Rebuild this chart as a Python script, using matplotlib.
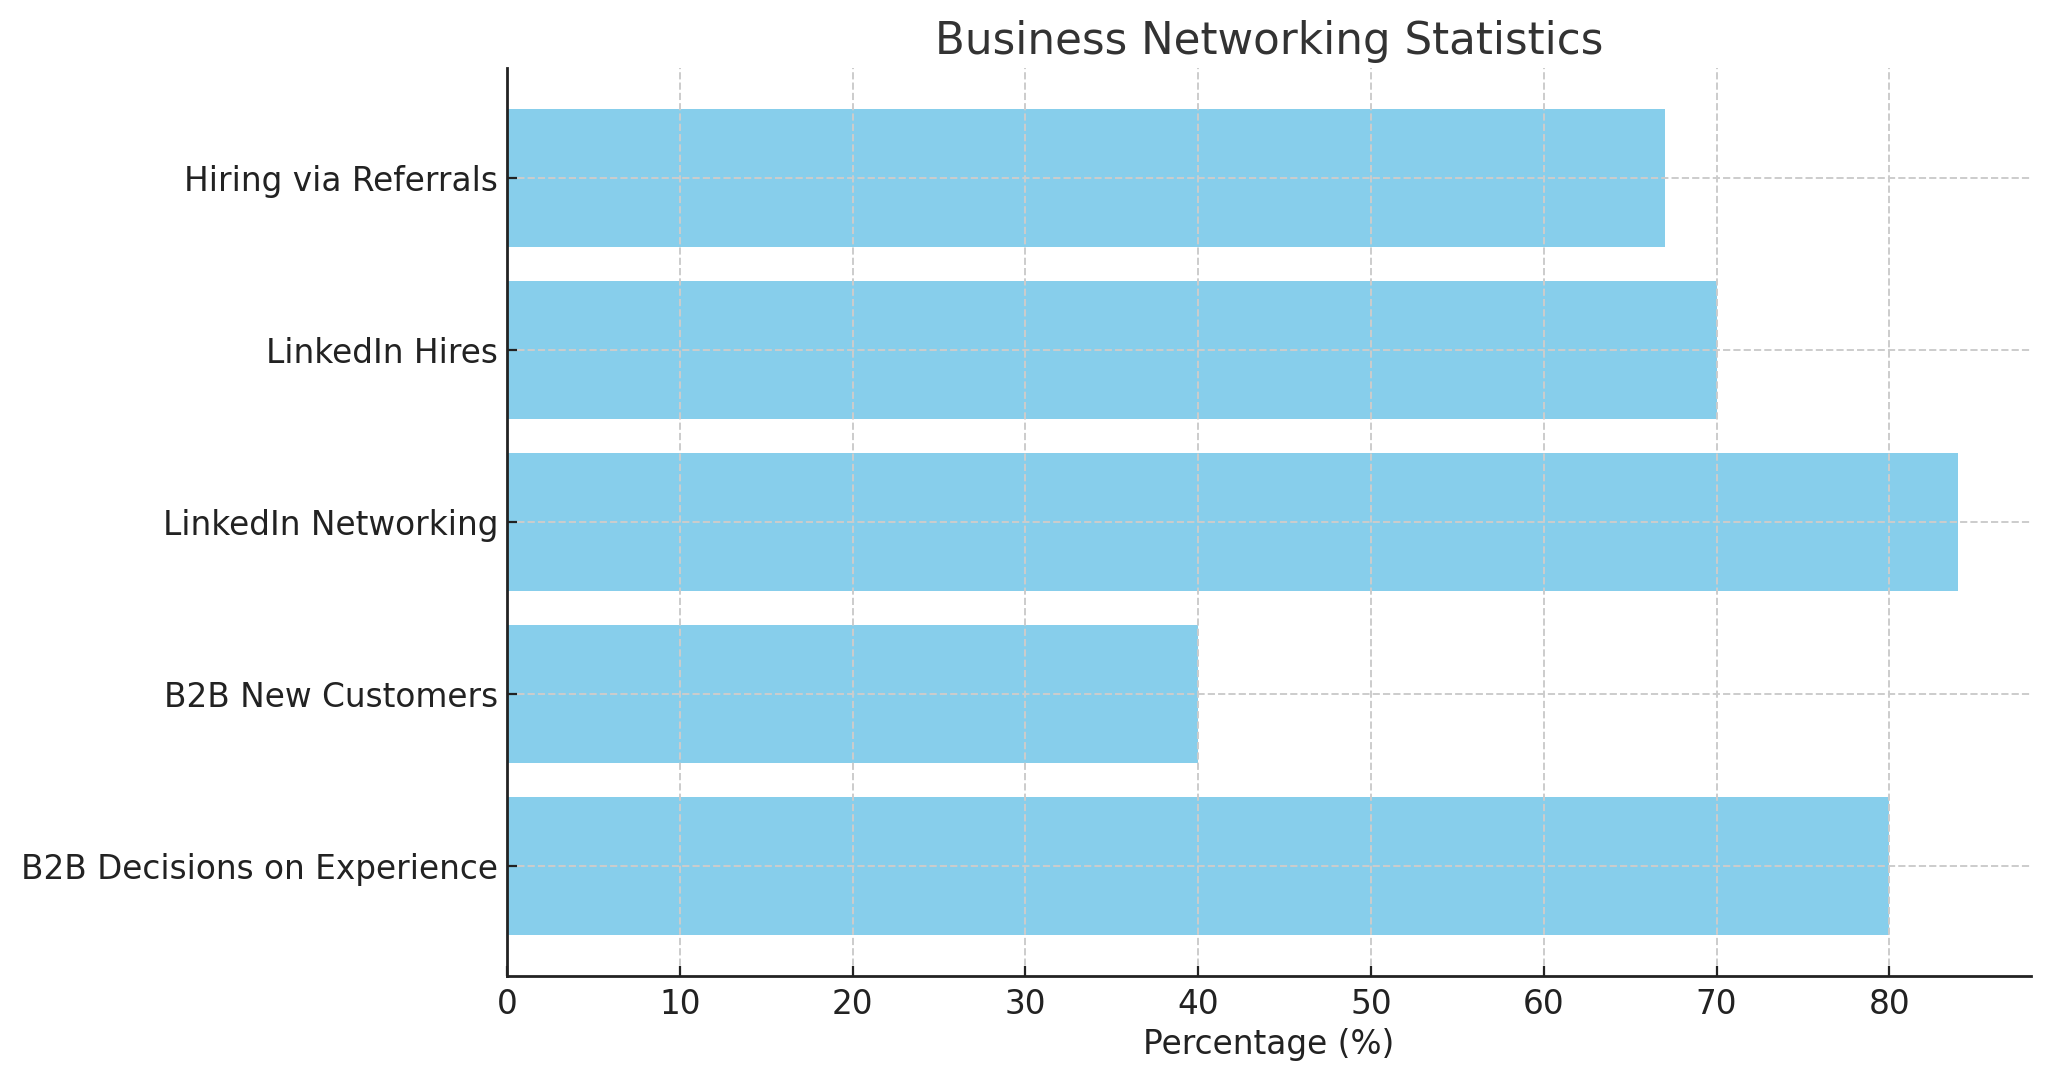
import matplotlib
matplotlib.use("Agg")
import matplotlib.pyplot as plt

categories = ["B2B Decisions on Experience", "B2B New Customers", "LinkedIn Networking",
              "LinkedIn Hires", "Hiring via Referrals"]
values = [80, 40, 84, 70, 67]
xticks = [0, 10, 20, 30, 40, 50, 60, 70, 80]

plt.rcParams['font.family'] = ['DejaVu Sans']
fig = plt.figure(figsize=(10.24, 5.405), dpi=200)
ax = fig.add_axes([507/2048, 1 - 976/1081, (2031-507)/2048, (976-68)/1081])

ax.barh(categories, values, color="#87CEEB", height=0.8)
ax.set_axisbelow(False)
ax.grid(True, linestyle='--', color='#cccccc', linewidth=0.7)
ax.set_xticks(xticks)
ax.tick_params(axis='both', direction='in', length=3.5, labelsize=11.8,
               colors='#222222', labelcolor='#222222')
ax.tick_params(axis='y', pad=3.2)
ax.tick_params(axis='x', pad=4.5)
for s in ['top', 'right']:
    ax.spines[s].set_visible(False)
for s in ['left', 'bottom']:
    ax.spines[s].set_color('#222222')
    ax.spines[s].set_linewidth(1.0)
    ax.spines[s].set_zorder(5)
ax.set_xlabel("Percentage (%)", fontsize=11.8, color='#222222', labelpad=2.5)
ax.set_title("Business Networking Statistics", fontsize=15.7, color='#333333', pad=5)

fig.savefig("out.png", dpi=200)
